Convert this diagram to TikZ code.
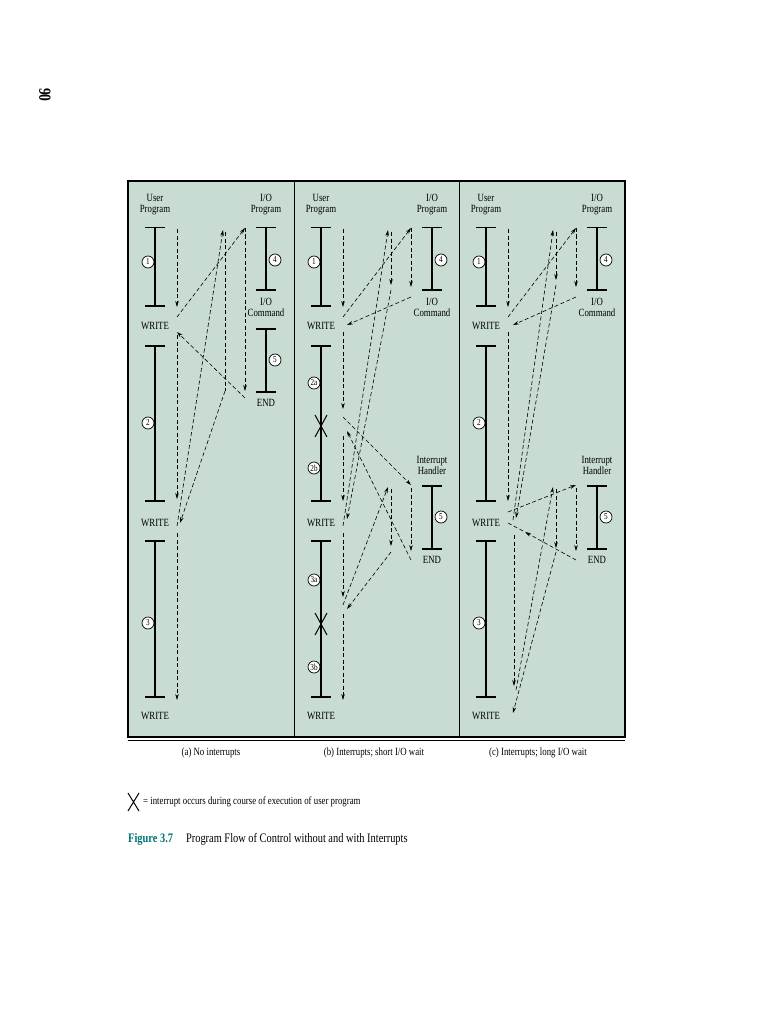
\documentclass[tikz,border=0pt]{standalone}
\usepackage{fontspec}
\setmainfont{Liberation Serif}[FakeStretch=0.8]
\usetikzlibrary{arrows.meta}
\definecolor{panel}{RGB}{200,220,210}
\definecolor{figteal}{RGB}{0,115,115}
\begin{document}
\begin{tikzpicture}[x=1pt,y=-1pt,
  lbl/.style={font=\fontsize{11}{11}\selectfont,inner sep=0pt,align=center},
  num/.style={circle,draw,fill=white,inner sep=0.6pt,minimum size=12pt,font=\fontsize{9}{9}\selectfont,line width=0.7pt},
  bar/.style={line width=1.1pt},
  flow/.style={dashed,dash pattern=on 4pt off 2.5pt,line width=0.6pt,-{Stealth[length=6pt,width=3.5pt]}},
  flown/.style={dashed,dash pattern=on 4pt off 2.5pt,line width=0.6pt}]
\useasboundingbox (0,0) rectangle (768,1024);
% page number
\node[rotate=-90,font=\bfseries\fontsize{17}{17}\selectfont] (pg) at (45,95) {90};
% frame
\fill[panel] (128,181) rectangle (625,737);
\draw[line width=1.2pt] (128,181) rectangle (625,737);
\draw[line width=1pt] (294,181) -- (294,737) (459,181) -- (459,737);
\draw[line width=0.5pt] (128,740) -- (625,740);
% generic bar macro: \tbar{x}{y1}{y2}
\newcommand{\tbar}[3]{\draw[bar] (#1-10,#2) -- (#1+10,#2) (#1,#2) -- (#1,#3) (#1-10,#3) -- (#1+10,#3);}
\newcommand{\xmark}[2]{\draw[line width=1pt] (#1-6,#2-11) -- (#1+6,#2+11) (#1-6,#2+11) -- (#1+6,#2-11);}
% ===== panel headers
\foreach \u/\io in {155/266,321/432,486/597}{
  \node[lbl] at (\u,205) {User\\Program};
  \node[lbl] at (\io,205) {I/O\\Program};
  \tbar{\io}{227.5}{290}
  \node[num] at (\io+9,260) {4};
  \node[lbl] at (\io,307) {I/O\\Command};
  \tbar{\u}{227.5}{306}
  \node[num] at (\u-7,262) {1};
  \node[lbl] at (\u,326) {WRITE};
  \node[lbl] at (\u,523) {WRITE};
  \node[lbl] at (\u,716) {WRITE};
}
% panel a bars
\tbar{155}{346}{501}
\node[num] at (148,423) {2};
\tbar{155}{541}{697}
\node[num] at (148,623) {3};
\tbar{266}{329}{392}
\node[num] at (275,360) {5};
\node[lbl] at (266,403) {END};
% panel b bars
\tbar{321}{346}{501}
\node[num] at (314,383) {2a};
\xmark{321}{426}
\node[num] at (314,468) {2b};
\tbar{321}{541}{697}
\node[num] at (314,580) {3a};
\xmark{321}{624}
\node[num] at (314,667) {3b};
\fill[panel] (310,425) rectangle (311,426);
% panel c bars
\tbar{486}{346}{501}
\node[num] at (479,423) {2};
\tbar{486}{541}{697}
\node[num] at (479,623) {3};
% interrupt handlers
\foreach \io in {432,597}{
  \node[lbl] at (\io,465) {Interrupt\\Handler};
  \tbar{\io}{486}{549}
  \node[num] at (\io+9,517) {5};
  \node[lbl] at (\io,560) {END};
}
% ===== flows panel a
\draw[flow] (177,229) -- (177,307);
\draw[flow] (177,317) -- (245,228);
\draw[flow] (245,228) -- (245,391);
\draw[flow] (245,398) -- (177,332);
\draw[flow] (177,335) -- (177,499);
\draw[flow] (177,526) -- (223,230);
\draw[flown] (225,232) -- (225,391);
\draw[flow] (225,391) -- (180,523);
\draw[flow] (177,533) -- (177,700);
% ===== flows panel b
\draw[flow] (343,229) -- (343,307);
\draw[flow] (343,317) -- (411,228);
\draw[flow] (411,228) -- (411,287);
\draw[flow] (411,297) -- (347,325);
\draw[flow] (343,332) -- (343,409);
\draw[flow] (343,417) -- (411,485);
\draw[flow] (411,488) -- (411,551);
\draw[flow] (411,560) -- (347,431);
\draw[flow] (343,436) -- (343,501);
\draw[flow] (343,526) -- (388,230);
\draw[flow] (391,232) -- (391,285);
\draw[flow] (391,290) -- (347,519);
\draw[flow] (343,533) -- (343,597);
\draw[flow] (343,605) -- (388,487);
\draw[flow] (391,489) -- (391,546);
\draw[flow] (391,552) -- (347,609);
\draw[flow] (343,614) -- (343,700);
% ===== flows panel c
\draw[flow] (508,229) -- (508,307);
\draw[flow] (508,317) -- (576,228);
\draw[flow] (576,228) -- (576,287);
\draw[flow] (576,297) -- (513,325);
\draw[flow] (508,332) -- (508,501);
\draw[flow] (508,512) -- (576,485);
\draw[flow] (576,488) -- (576,551);
\draw[flow] (576,560) -- (525,532);
\draw[flown] (508,523) -- (525,532);
\draw[flow] (513,520) -- (553,230);
\draw[flow] (556,232) -- (556,280);
\draw[flow] (556,285) -- (516,518);
\draw[flow] (514,535) -- (514,686);
\draw[flow] (516,690) -- (553,487);
\draw[flow] (556,489) -- (556,548);
\draw[flow] (556,552) -- (513,713);
% captions
\node[lbl] (ca) at (211,753) {(a) No interrupts};
\node[lbl] (cb) at (374,753) {(b) Interrupts; short I/O wait};
\node[lbl] (cc) at (538,753) {(c) Interrupts; long I/O wait};
\draw[line width=1pt] (128,793) -- (139,811) (128,811) -- (139,793);
\node[lbl,anchor=west] (leg) at (143,802) {= interrupt occurs during course of execution of user program};
\node[anchor=west,inner sep=0pt,font=\fontsize{13}{13}\selectfont] (fig) at (128,839) {\textcolor{figteal}{\bfseries Figure 3.7}\quad Program Flow of Control without and with Interrupts};
\end{tikzpicture}
\end{document}
